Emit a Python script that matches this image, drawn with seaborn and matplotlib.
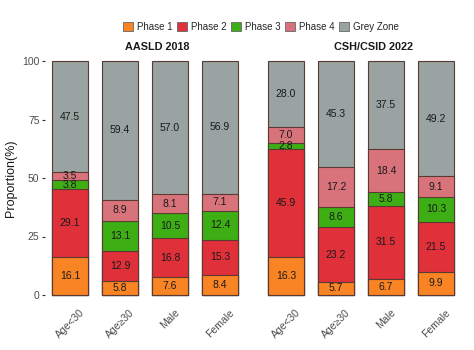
import numpy as np
import pandas as pd
import matplotlib
matplotlib.use("Agg")
import matplotlib.pyplot as plt
import seaborn as sns
from matplotlib.patches import Patch

groups = ["Age<30", "Age\u226530", "Male", "Female"]
phases = ["Phase 1", "Phase 2", "Phase 3", "Phase 4", "Grey Zone"]
colors = ["#F98424", "#E0303A", "#3DAE14", "#D9737B", "#99A3A2"]

aasld_phase1 = [16.1, 5.8, 7.6, 8.4]
aasld_phase2 = [29.1, 12.9, 16.8, 15.3]
aasld_phase3 = [3.8, 13.1, 10.5, 12.4]
aasld_phase4 = [3.5, 8.9, 8.1, 7.1]
aasld_grey = [47.5, 59.4, 57.0, 56.9]

csh_phase1 = [16.3, 5.7, 6.7, 9.9]
csh_phase2 = [45.9, 23.2, 31.5, 21.5]
csh_phase3 = [2.8, 8.6, 5.8, 10.3]
csh_phase4 = [7.0, 17.2, 18.4, 9.1]
csh_grey = [28.0, 45.3, 37.5, 49.2]

panels = [
    ("AASLD 2018", [aasld_phase1, aasld_phase2, aasld_phase3, aasld_phase4, aasld_grey]),
    ("CSH/CSID 2022", [csh_phase1, csh_phase2, csh_phase3, csh_phase4, csh_grey]),
]

sns.set_theme(style="white")
plt.rcParams['font.family'] = ['Liberation Sans', 'DejaVu Sans']

W, H = 474, 350
fig = plt.figure(figsize=(W / 100, H / 100), dpi=100)

axes_px = [(45, 200), (261, 200)]
edge = "#5a3b33"
tick_col = "#4d4d4d"

for i, ((title, series), (x0, w)) in enumerate(zip(panels, axes_px)):
    ax = fig.add_axes([x0 / W, 55 / H, w / W, 234 / H])
    rows = []
    for p, vals in zip(phases, series):
        for g, v in zip(groups, vals):
            rows.append({"group": g, "phase": p, "value": v})
    df = pd.DataFrame(rows)
    df["cum"] = df.groupby("group")["value"].cumsum()
    df["mid"] = df["cum"] - df["value"] / 2
    # draw from top (cumulative) down so segments overlay
    for p, c in reversed(list(zip(phases, colors))):
        sub = df[df["phase"] == p]
        sns.barplot(data=sub, x="group", y="cum", order=groups, color=c,
                    width=0.72, edgecolor=edge, linewidth=0.8, saturation=1,
                    ax=ax, clip_on=False)
    for _, r in df.iterrows():
        xi = groups.index(r["group"])
        ax.text(xi, r["mid"], f"{r['value']:.1f}", ha="center", va="center",
                fontsize=7.5, color="#1a1a1a")
    ax.set_xlim(-0.5, 3.5)
    ax.set_ylim(0, 100)
    ax.set_xlabel("")
    ax.set_ylabel("")
    for s in ax.spines.values():
        s.set_visible(False)
    ax.set_xticks(range(4))
    ax.set_xticklabels(groups, rotation=45, ha="center", fontsize=7.5, color=tick_col)
    ax.tick_params(axis="x", length=0, pad=9)
    if i == 0:
        ax.set_yticks([0, 25, 50, 75, 100])
        ax.set_yticklabels(["0", "25", "50", "75", "100"], fontsize=7.5, color=tick_col)
        ax.tick_params(axis="y", left=True, length=2.5, width=0.8, color="#333333", pad=1.5)
        ax.set_ylabel("Proportion(%)", fontsize=9, color="#1a1a1a", labelpad=4)
    else:
        ax.set_yticks([])

fig.text(157 / W, 1 - 47 / H, "AASLD 2018", ha="center", va="center",
         fontsize=7.8, fontweight="bold", color="#1a1a1a")
fig.text(374 / W, 1 - 47 / H, "CSH/CSID 2022", ha="center", va="center",
         fontsize=7.8, fontweight="bold", color="#1a1a1a")

handles = [Patch(facecolor=c, edgecolor="#666666", linewidth=0.6, label=p)
           for p, c in zip(phases, colors)]
fig.legend(handles=handles, loc="center", bbox_to_anchor=(261 / W, 1 - 27 / H),
           ncol=5, frameon=False, fontsize=7, handlelength=1.0, handleheight=1.0,
           handletextpad=0.4, columnspacing=0.5, borderaxespad=0)

fig.savefig("out.png", dpi=100)
